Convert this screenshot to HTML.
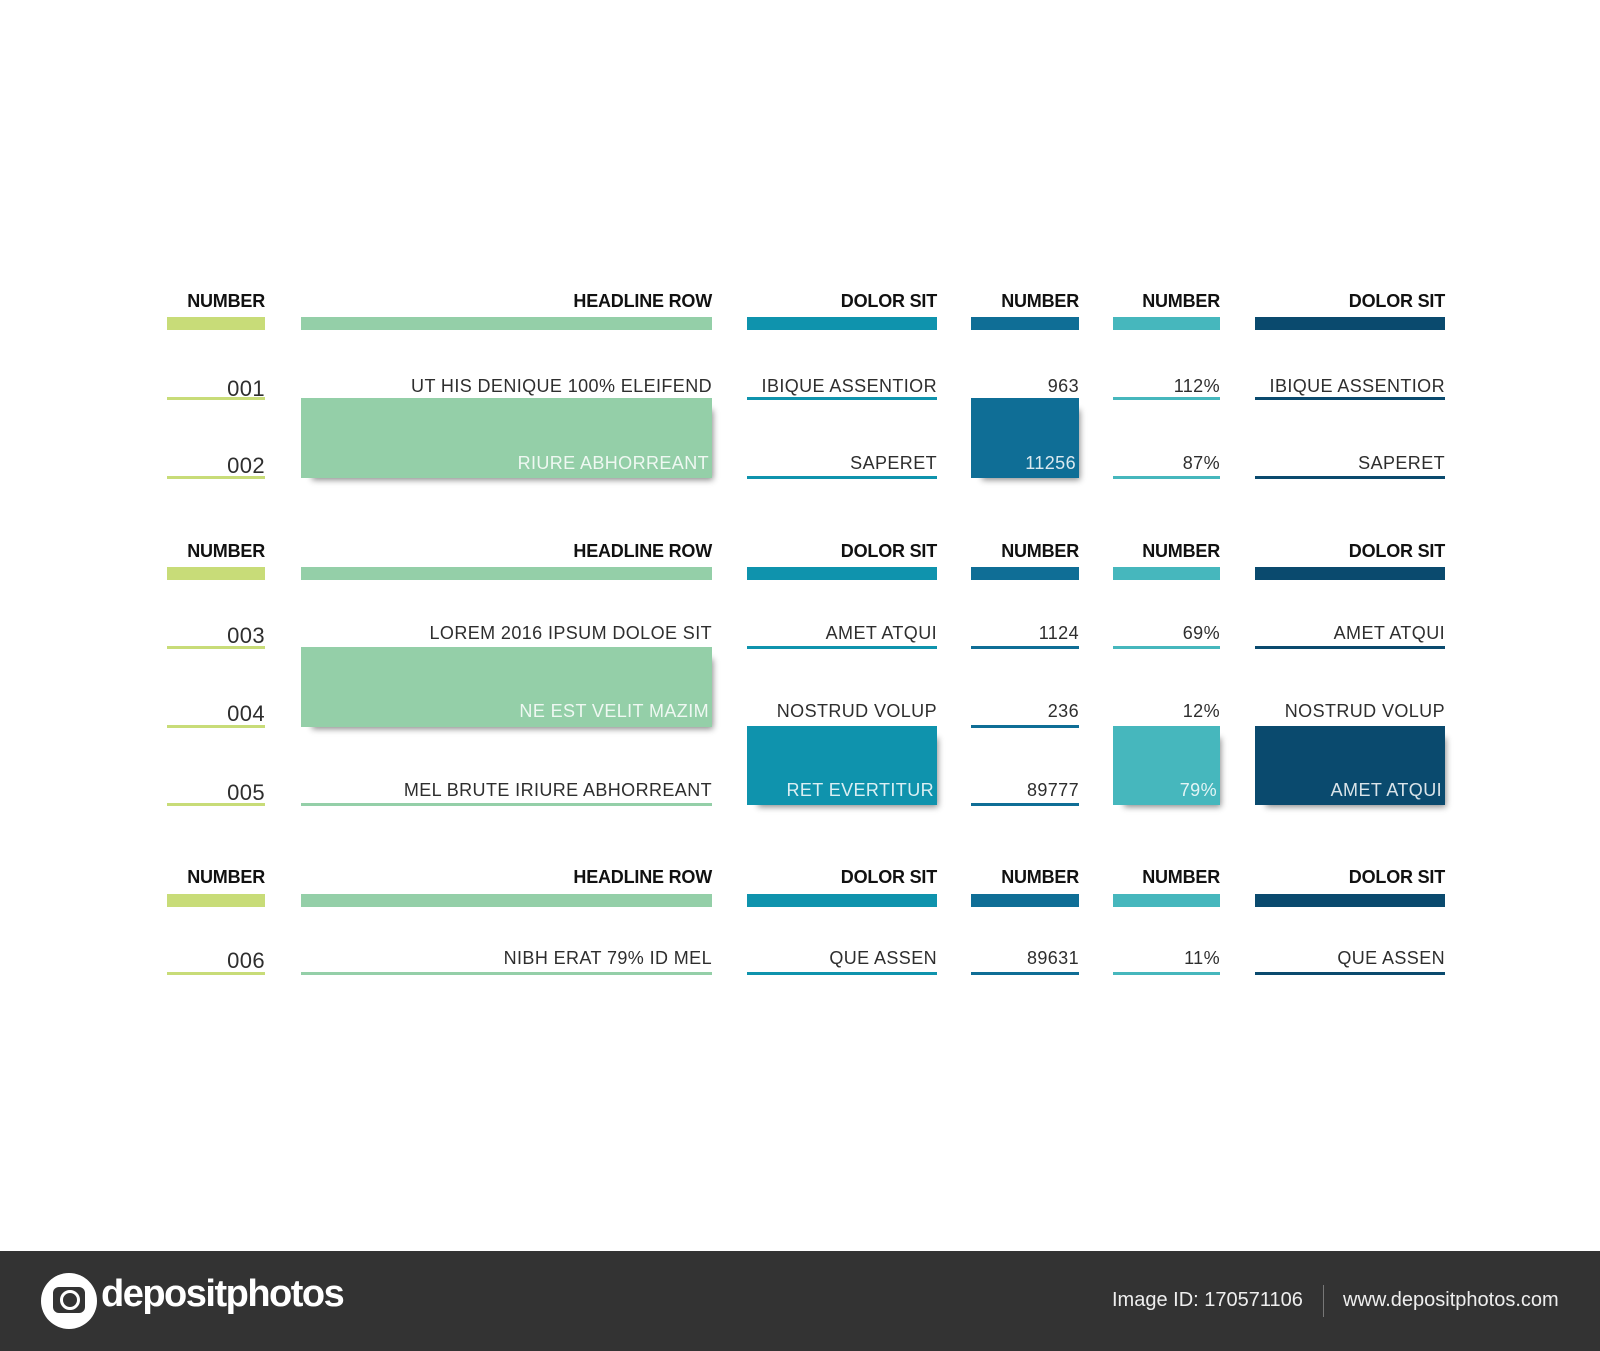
<!DOCTYPE html>
<html><head><meta charset="utf-8">
<style>
body{margin:0;width:1600px;height:1351px;background:#fff;position:relative;overflow:hidden;font-family:"Liberation Sans",sans-serif;}
.t{position:absolute;white-space:nowrap;text-align:right;color:#2e2e2e;font-size:18px;letter-spacing:0.4px;}
.h{font-weight:bold;color:#111;font-size:18px;letter-spacing:-0.2px;}
.bar{position:absolute;}
.box{position:absolute;box-shadow:6px 7px 6px -5px rgba(0,0,0,0.45);}
.bt{color:rgba(255,255,255,0.85);}
#footer{position:absolute;left:0;top:1251px;width:1600px;height:100px;background:#333;}
</style></head>
<body>
<div id="table"></div>
<div id="footer">
  <div style="position:absolute;left:41px;top:22px;width:56px;height:56px;border-radius:50%;background:#fff;"></div>
  <div style="position:absolute;left:53px;top:36px;width:32px;height:26px;border-radius:6px;background:#333;"></div>
  <div style="position:absolute;left:60px;top:39px;width:14px;height:14px;border-radius:50%;border:3px solid #fff;background:#333;"></div>
  <div class="t" style="left:101px;top:22px;color:#fff;font-weight:bold;font-size:38px;letter-spacing:-1.5px;">depositphotos</div>
  <div class="t" style="left:1112px;top:38px;color:#eee;font-size:20px;letter-spacing:0;">Image ID: 170571106</div>
  <div style="position:absolute;left:1323px;top:34px;width:1px;height:32px;background:#777;"></div>
  <div class="t" style="left:1343px;top:38px;color:#eee;font-size:20px;letter-spacing:0;">www.depositphotos.com</div>
</div>
<script>
const colX1=[167,301,747,971,1113,1255];
const colX2=[265,712,937,1079,1220,1445];
const colColor=['#c8dc78','#94cfa8','#0f93ad','#0f6e96','#46b7bd','#0a4a6e'];
const headers=['NUMBER','HEADLINE ROW','DOLOR SIT','NUMBER','NUMBER','DOLOR SIT'];
const headerBase=[308,558,884];
const headerBar=[317,567,894];
const rowBase=[392,469,639,717,796,964];
const rowLine=[397,476,646,725,803,972];
const rows=[
 ['001','UT HIS DENIQUE 100% ELEIFEND','IBIQUE ASSENTIOR','963','112%','IBIQUE ASSENTIOR'],
 ['002','RIURE ABHORREANT','SAPERET','11256','87%','SAPERET'],
 ['003','LOREM 2016 IPSUM DOLOE SIT','AMET ATQUI','1124','69%','AMET ATQUI'],
 ['004','NE EST VELIT MAZIM','NOSTRUD VOLUP','236','12%','NOSTRUD VOLUP'],
 ['005','MEL BRUTE IRIURE ABHORREANT','RET EVERTITUR','89777','79%','AMET ATQUI'],
 ['006','NIBH ERAT 79% ID MEL','QUE ASSEN','89631','11%','QUE ASSEN']
];
// highlighted boxes: [row index, col index]
const boxes=[[1,1],[1,3],[3,1],[4,2],[4,4],[4,5]];
const root=document.getElementById('table');
function add(tag,cls,css,txt){const e=document.createElement(tag);e.className=cls;e.style.cssText=css;if(txt!==undefined)e.textContent=txt;root.appendChild(e);return e;}
headerBase.forEach((b,s)=>{
  for(let c=0;c<6;c++){
    const t=add('div','t h','right:'+(1600-colX2[c])+'px;top:'+(b-17)+'px;',headers[c]);
    
    
    const br=add('div','bar','left:'+colX1[c]+'px;width:'+(colX2[c]-colX1[c])+'px;top:'+headerBar[s]+'px;height:13px;background:'+colColor[c]+';');
    
    
  }
});
function isBox(r,c){return boxes.some(b=>b[0]===r&&b[1]===c);}
boxes.forEach(b=>{
  const r=b[0],c=b[1];
  const top=rowLine[r-1]+1, bot=rowLine[r]+2;
  const e=add('div','box','left:'+colX1[c]+'px;width:'+(colX2[c]-colX1[c])+'px;top:'+top+'px;height:'+(bot-top)+'px;background:'+colColor[c]+';');
  
  
});
rows.forEach((row,r)=>{
  for(let c=0;c<6;c++){
    const inBox=isBox(r,c);
    const boxBelow=isBox(r+1,c);
    const t=add('div','t'+(inBox?' bt':''),'right:'+(1600-colX2[c]+(inBox?3:0))+'px;top:'+(rowBase[r]-16)+'px;'+(c===0?'font-size:22px;':''),row[c]);
    
    
    if(!inBox&&!boxBelow){
      const l=add('div','bar','left:'+colX1[c]+'px;width:'+(colX2[c]-colX1[c])+'px;top:'+rowLine[r]+'px;height:3px;background:'+colColor[c]+';');
      
      
    }
  }
});
</script>
</body></html>
